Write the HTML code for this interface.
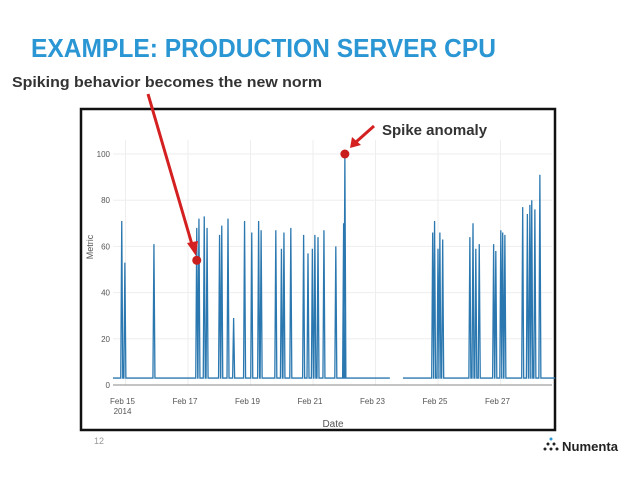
<!DOCTYPE html>
<html><head><meta charset="utf-8"><style>
html,body{margin:0;padding:0;background:#fff;}
svg{display:block;font-family:"Liberation Sans",sans-serif;}
</style></head><body>
<svg id="s" width="638" height="478" viewBox="0 0 638 478">
<text x="31" y="57" font-size="26" font-weight="bold" fill="#2a96d4" textLength="465" lengthAdjust="spacingAndGlyphs">EXAMPLE: PRODUCTION SERVER CPU</text>
<text x="12" y="87" font-size="15" font-weight="bold" fill="#333" textLength="310" lengthAdjust="spacingAndGlyphs">Spiking behavior becomes the new norm</text>
<rect x="81" y="109" width="474" height="321" fill="#fff" stroke="#111" stroke-width="2.5"/>
<g id="grid"></g>
<g id="yt"></g>
<g id="xt"></g>
<path id="series" fill="none" stroke="#2b78b0" stroke-width="1.3"/>
<line x1="113" y1="385" x2="552" y2="385" stroke="#888" stroke-width="1"/>
<text x="0" y="0" transform="translate(93,247) rotate(-90)" text-anchor="middle" font-size="9" fill="#555">Metric</text>
<text x="333" y="427" text-anchor="middle" font-size="10" fill="#555">Date</text>
<line x1="148" y1="94" x2="193" y2="248" stroke="#d42020" stroke-width="3"/>
<polygon points="196,256 187,243 198,241" fill="#d42020"/>
<line x1="374" y1="126" x2="356" y2="142" stroke="#d42020" stroke-width="3"/>
<polygon points="350,148 352,137 361,145" fill="#d42020"/>
<circle id="dot1" r="4.5" fill="#c81e1e"/>
<circle id="dot2" r="4.5" fill="#c81e1e"/>
<text x="382" y="135" font-size="15" font-weight="bold" fill="#333">Spike anomaly</text>
<text x="94" y="444" font-size="9" fill="#999">12</text>
<g>
<circle cx="551" cy="439" r="1.5" fill="#2a96d4"/><circle cx="548" cy="444" r="1.5" fill="#222"/><circle cx="554" cy="444" r="1.5" fill="#222"/><circle cx="545" cy="449" r="1.5" fill="#222"/><circle cx="551" cy="449" r="1.5" fill="#222"/><circle cx="557" cy="449" r="1.5" fill="#222"/>
<text x="562" y="451" font-size="13" font-weight="bold" fill="#222" textLength="56" lengthAdjust="spacingAndGlyphs">Numenta</text>
</g>
</svg>
<script>
const yTicks=[0,20,40,60,80,100];
const xTickDays=[0,2,4,6,8,10,12];
const xTickLabels=["Feb 15","Feb 17","Feb 19","Feb 21","Feb 23","Feb 25","Feb 27"];
const spikeDays=[-0.12,-0.02,0.91,2.28,2.35,2.52,2.61,3.01,3.08,3.28,3.46,3.81,4.04,4.26,4.34,4.81,4.99,5.07,5.29,5.70,5.84,5.98,6.06,6.16,6.35,6.73,6.98,7.02,9.83,9.89,10.0,10.06,10.15,11.02,11.12,11.21,11.32,11.78,11.85,12.01,12.07,12.14,12.71,12.86,12.94,13.0,13.1,13.26];
const spikeValues=[71,53,61,68,72,73,68,65,69,72,29,71,66,71,67,67,59,66,68,65,57,59,65,64,67,60,70,100,66,71,59,66,63,64,70,59,61,61,58,67,66,65,77,74,78,80,76,91];
const segments=[[-0.4,8.46],[8.88,13.75]];
const baseline=3;
const anomalyDay=7.02, anomalyValue=100, normDay=2.28, normValue=54;
const NS="http://www.w3.org/2000/svg";
const X=d=>125.5+31.25*d, Y=v=>385-2.31*v;
const grid=document.getElementById('grid'),yt=document.getElementById('yt'),xt=document.getElementById('xt');
yTicks.forEach(v=>{
 const l=document.createElementNS(NS,'line');
 l.setAttribute('x1',113);l.setAttribute('x2',552);l.setAttribute('y1',Y(v));l.setAttribute('y2',Y(v));
 l.setAttribute('stroke','#eee');
 
 
 grid.appendChild(l);
 const t=document.createElementNS(NS,'text');
 t.setAttribute('x',110);t.setAttribute('y',Y(v)+3);t.setAttribute('text-anchor','end');
 t.setAttribute('font-size','8');t.setAttribute('fill','#555');t.textContent=v;
 
 
 yt.appendChild(t);
});
xTickDays.forEach((d,i)=>{
 const l=document.createElementNS(NS,'line');
 l.setAttribute('x1',X(d));l.setAttribute('x2',X(d));l.setAttribute('y1',140);l.setAttribute('y2',385);
 l.setAttribute('stroke','#eee');
 
 
 grid.appendChild(l);
 const t=document.createElementNS(NS,'text');
 t.setAttribute('x',X(d)-3);t.setAttribute('y',404);t.setAttribute('text-anchor','middle');
 t.setAttribute('font-size','8');t.setAttribute('fill','#555');t.textContent=xTickLabels[i];
 
 
 xt.appendChild(t);
});
const t2=document.createElementNS(NS,'text');
t2.setAttribute('x',X(0)-3);t2.setAttribute('y',414);t2.setAttribute('text-anchor','middle');
t2.setAttribute('font-size','8');t2.setAttribute('fill','#555');t2.textContent='2014';


xt.appendChild(t2);
let d='';
segments.forEach(([a,b])=>{
 d+=`M${X(a)},${Y(baseline)}`;
 spikeDays.forEach((s,i)=>{
  if(s>=a&&s<=b){d+=`L${X(s)-1},${Y(baseline)}L${X(s)},${Y(spikeValues[i])}L${X(s)+1},${Y(baseline)}`;}
 });
 d+=`L${X(b)},${Y(baseline)}`;
});
document.getElementById('series').setAttribute('d',d);
const d1=document.getElementById('dot1');d1.setAttribute('cx',X(normDay));d1.setAttribute('cy',Y(normValue));
const d2=document.getElementById('dot2');d2.setAttribute('cx',X(anomalyDay));d2.setAttribute('cy',Y(anomalyValue));
</script>
</body></html>
